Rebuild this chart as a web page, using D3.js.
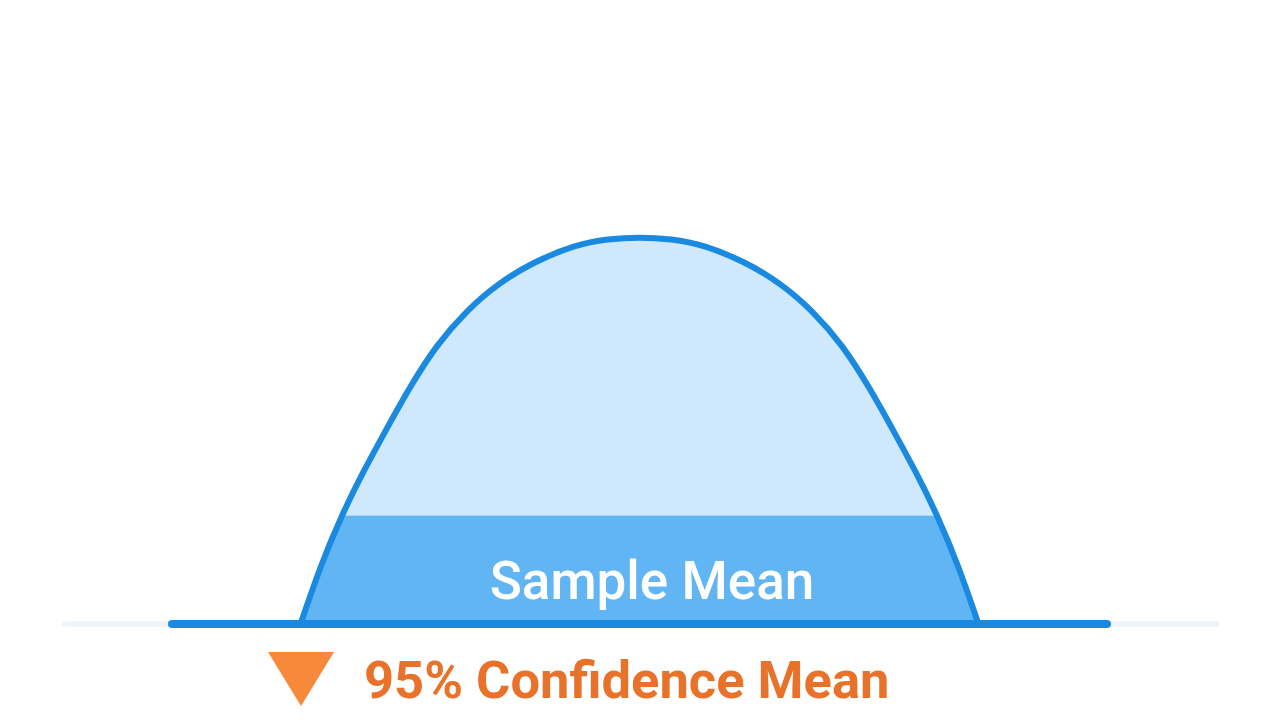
<!DOCTYPE html>
<html>
<head>
<meta charset="utf-8">
<script src="https://cdn.jsdelivr.net/npm/d3@7"></script>
<style>
  html, body { margin: 0; padding: 0; background: #fff; }
  svg { display: block; }
</style>
</head>
<body>
<script>
  // curve outline (x in standard errors, y relative density)
  const curveX = [-2.90, -2.73, -2.55, -2.37, -2.19, -1.97, -1.74, -1.48, -1.21, -0.91, -0.55, -0.27, 0,
                  0.27, 0.55, 0.91, 1.21, 1.48, 1.74, 1.97, 2.19, 2.37, 2.55, 2.73, 2.90];
  const curveY = [0, 0.15, 0.28, 0.39, 0.49, 0.61, 0.72, 0.81, 0.88, 0.935, 0.98, 0.995, 1,
                  0.995, 0.98, 0.935, 0.88, 0.81, 0.72, 0.61, 0.49, 0.39, 0.28, 0.15, 0];
  const bandTop = 0.28;             // top of the darker "sample mean" band
  const axisExtent = [-4, 4];       // solid baseline
  const fadeExtent = [-4.92, 4.94]; // faint line behind it
  const labels = { band: "Sample Mean", marker: "95% Confidence Mean" };

  const width = 1280, height = 720;
  const svg = d3.select("body").append("svg")
    .attr("width", width)
    .attr("height", height);

  const x = d3.scaleLinear().domain([-4, 4]).range([172, 1107]);
  const y = d3.scaleLinear().domain([0, 1]).range([624, 237]);

  const pts = curveX.map((d, i) => ({ x: d, y: curveY[i] }));

  // basis evens out small reading errors between points
  const area = d3.area()
    .x(d => x(d.x))
    .y0(y(0))
    .y1(d => y(d.y))
    .curve(d3.curveBasis);

  const line = d3.line()
    .x(d => x(d.x))
    .y(d => y(d.y))
    .curve(d3.curveBasis);

  svg.append("clipPath")
    .attr("id", "bell")
    .append("path")
    .attr("d", area(pts));

  // faint line
  svg.append("line")
    .attr("x1", x(fadeExtent[0])).attr("x2", x(fadeExtent[1]))
    .attr("y1", y(0)).attr("y2", y(0))
    .attr("stroke", "#eef3f8")
    .attr("stroke-width", 5)
    .attr("stroke-linecap", "round");

  svg.append("path")
    .attr("d", area(pts))
    .attr("fill", "#d0e8fc");

  svg.append("rect")
    .attr("clip-path", "url(#bell)")
    .attr("x", x(-4)).attr("width", x(4) - x(-4))
    .attr("y", y(bandTop)).attr("height", y(0) - y(bandTop))
    .attr("fill", "#62b5f3");

  svg.append("path")
    .attr("d", line(pts))
    .attr("fill", "none")
    .attr("stroke", "#1a8ae0")
    .attr("stroke-width", 6);

  svg.append("line")
    .attr("x1", x(axisExtent[0])).attr("x2", x(axisExtent[1]))
    .attr("y1", y(0)).attr("y2", y(0))
    .attr("stroke", "#1a8ae0")
    .attr("stroke-width", 8)
    .attr("stroke-linecap", "round");

  svg.append("text")
    .attr("x", 652).attr("y", 599)
    .attr("text-anchor", "middle")
    .attr("font-family", "Roboto, sans-serif")
    .attr("font-weight", 500)
    .attr("font-size", 53)
    .attr("fill", "#ffffff")
    .text(labels.band);

  // orange marker
  svg.append("path")
    .attr("d", d3.line()([[268, 652], [334, 652], [301, 706]]) + "Z")
    .attr("fill", "#f6893a");

  svg.append("text")
    .attr("x", 364).attr("y", 698)
    .attr("font-family", "Roboto, sans-serif")
    .attr("font-weight", 700)
    .attr("font-size", 52.5)
    .attr("fill", "#e8722a")
    .text(labels.marker);
</script>
</body>
</html>
